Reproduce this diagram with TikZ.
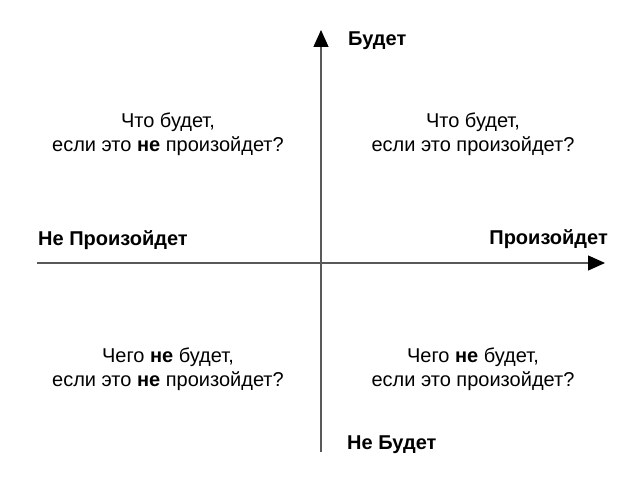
\documentclass[tikz,border=0pt]{standalone}
\usepackage{fontspec}
\setmainfont{Liberation Sans}
\usetikzlibrary{arrows.meta}

\begin{document}
\begin{tikzpicture}[x=1pt,y=1pt,
        axisline/.style={line width=1.3pt, draw=black!65, -{Triangle[length=17pt,width=15pt,color=black]}},
        axislbl/.style={font=\fontsize{20}{24}\selectfont\bfseries, inner sep=0pt},
        quadtxt/.style={font=\fontsize{20}{24}\selectfont, align=center, inner sep=0pt}]
        \useasboundingbox (0,0) rectangle (630,485);
        \coordinate (xl) at (37,222);
        \coordinate (xr) at (605,222);
        \coordinate (yb) at (321,33);
        \coordinate (yt) at (321,455);
        \draw[axisline] (xl) -- (xr);
        \draw[axisline] (yb) -- (yt);
        \node[axislbl, anchor=base west] (bud) at (348,439) {Будет};
        \node[axislbl, anchor=base west] (nebud) at (347,35) {Не Будет};
        \node[axislbl, anchor=base east] (proiz) at (608,240) {Произойдет};
        \node[axislbl, anchor=base west] (neproiz) at (38,239) {Не Произойдет};
        \node[quadtxt] (tl) at (168,351) {Что будет,\\если это \textbf{не} произойдет?};
        \node[quadtxt] (tr) at (473,351) {Что будет,\\если это произойдет?};
        \node[quadtxt] (bl) at (168,116) {Чего \textbf{не} будет,\\если это \textbf{не} произойдет?};
        \node[quadtxt] (br) at (473,116) {Чего \textbf{не} будет,\\если это произойдет?};
    \end{tikzpicture}
\end{document}
